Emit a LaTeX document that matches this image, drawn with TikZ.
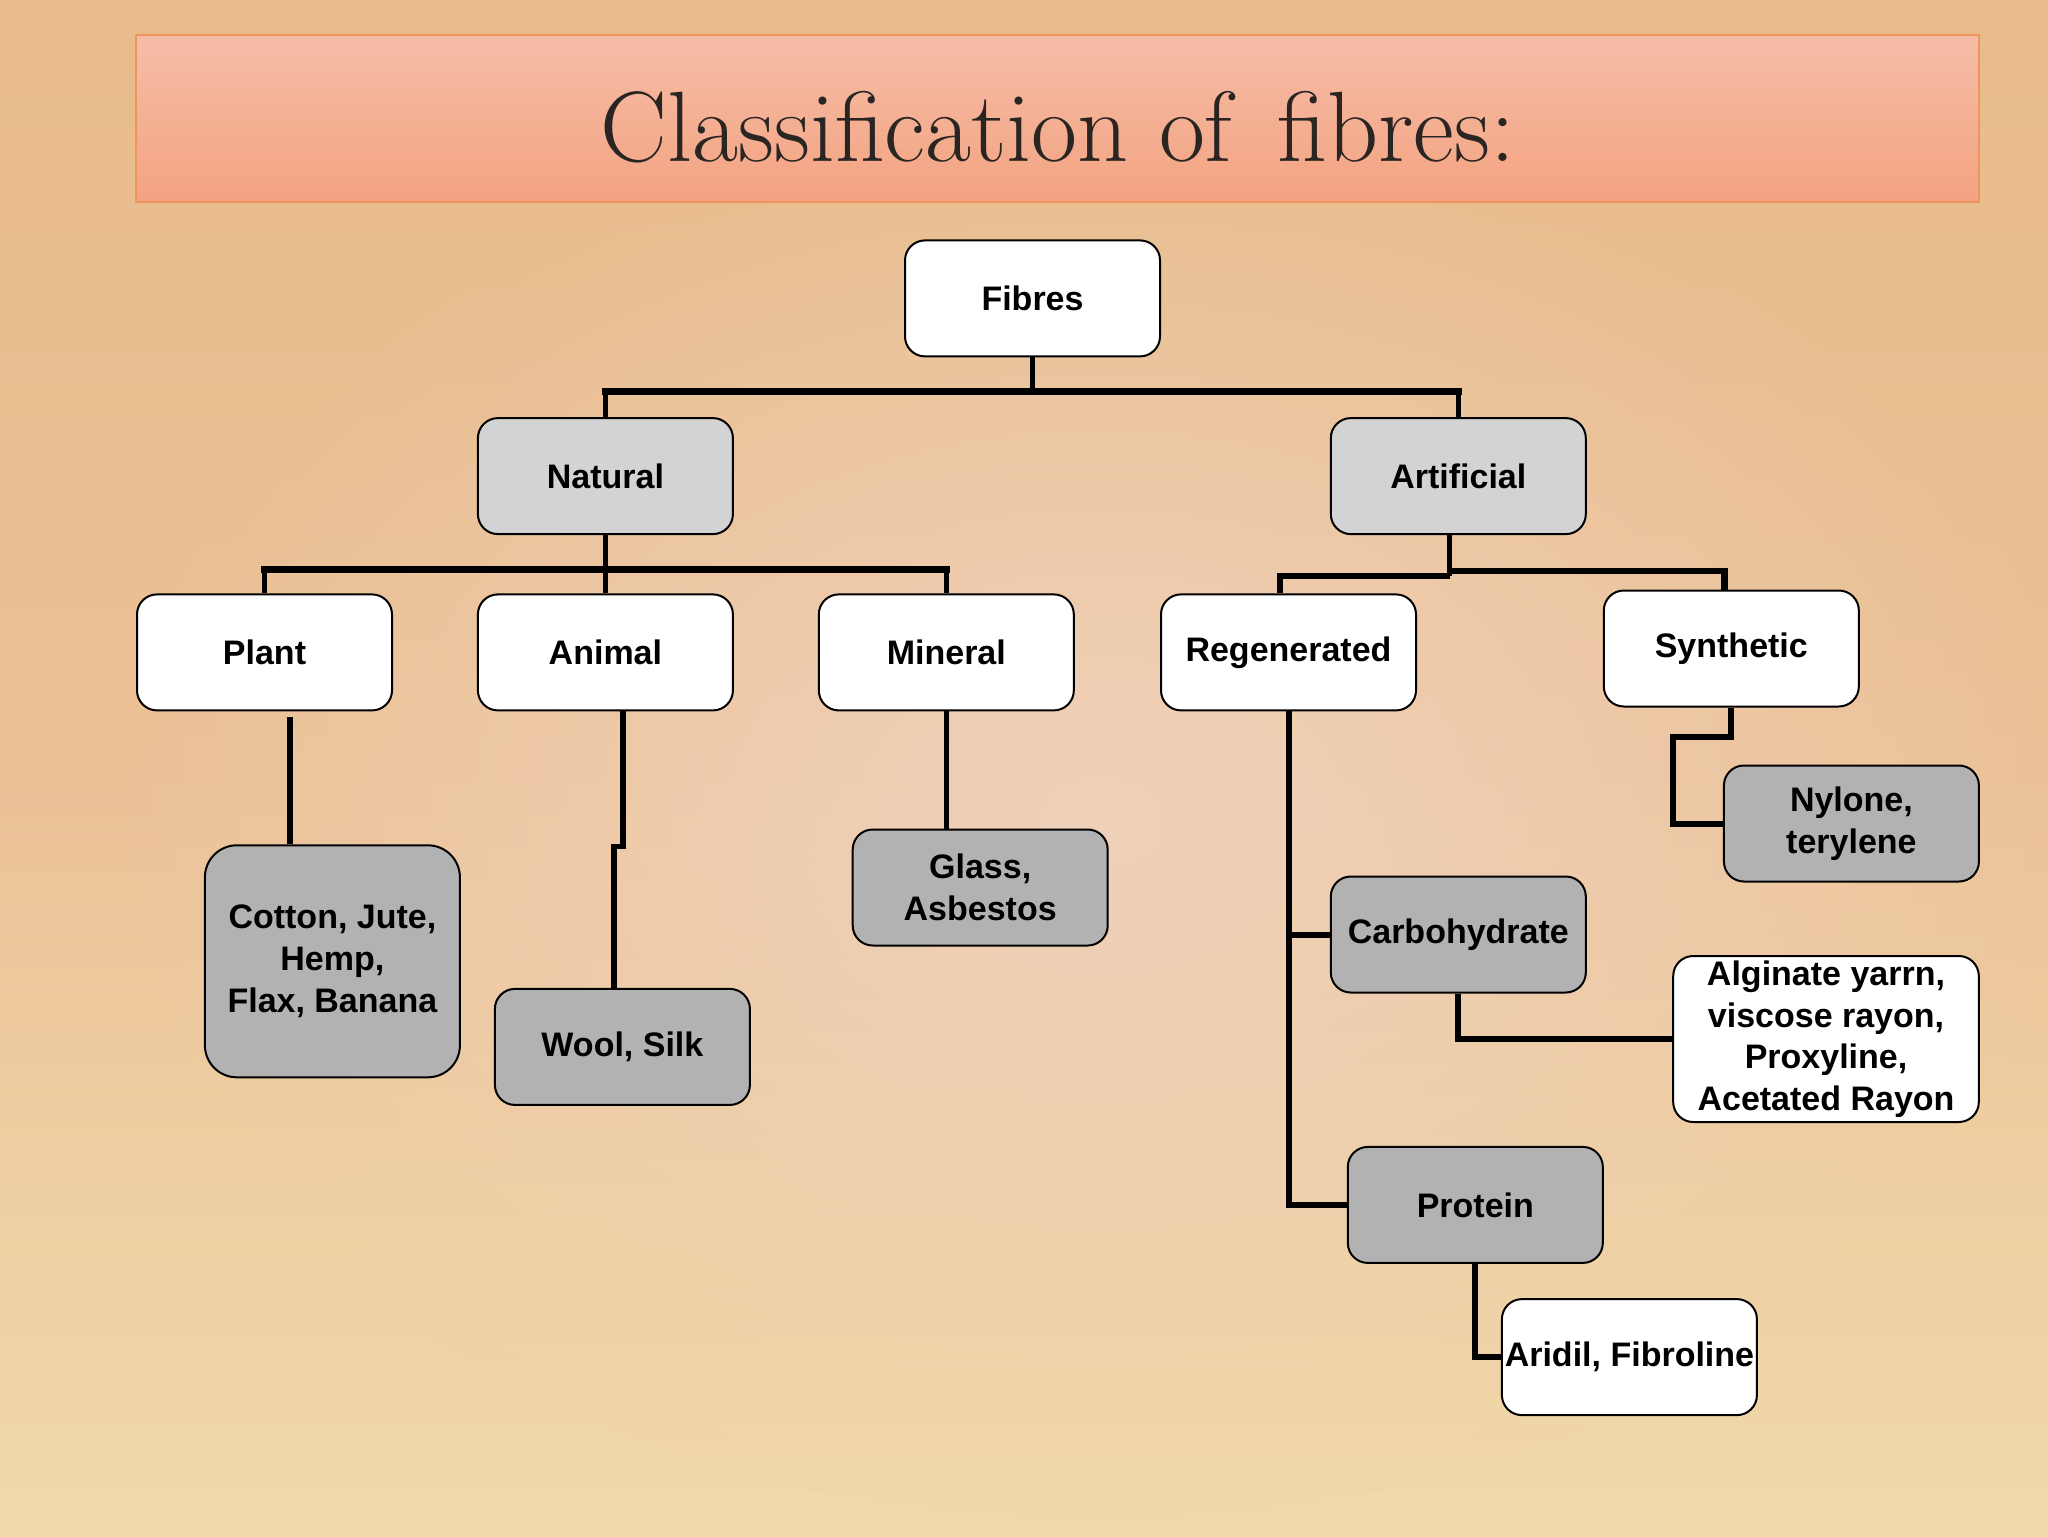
\documentclass[tikz,border=0pt]{standalone}
\usepackage{fontspec}
\newfontfamily\boxfont{Liberation Sans}
\usetikzlibrary{fadings}
\tikzfading[name=myfade, inner color=transparent!0, outer color=transparent!100]
\definecolor{bgtop}{HTML}{E8BC8A}
\definecolor{bgmid}{HTML}{EBC196}
\definecolor{bgbot}{HTML}{F1DAAA}
\definecolor{peach}{HTML}{F0D1BA}
\definecolor{bantop}{HTML}{F5BDA7}
\definecolor{banbot}{HTML}{F4A381}
\definecolor{banline}{HTML}{EE955F}
\definecolor{lg}{HTML}{D4D3D4}
\definecolor{dg}{HTML}{B2B2B2}
\definecolor{titlec}{HTML}{2A2522}
\begin{document}
\begin{tikzpicture}[x=0.5pt,y=-0.5pt,
  cell/.style={draw=black, line width=1pt, rounded corners=10pt,
    minimum width=127.5pt, minimum height=58pt, inner sep=0pt, align=center,
    font=\boxfont\bfseries\fontsize{17}{20.8}\selectfont},
  wcell/.style={cell, fill=white},
  lcell/.style={cell, fill=lg},
  dcell/.style={cell, fill=dg},
  link/.style={draw=black, line width=2.6pt},
  bar/.style={draw=black, line width=3.4pt, line cap=rect},
  banner/.style={draw=banline, line width=0.6pt, top color=bantop, bottom color=banbot,
    minimum width=921.5pt, minimum height=83.5pt, inner sep=0pt}]
% background
\useasboundingbox (0,0) rectangle (2048,1536);
\shade[top color=bgtop, bottom color=bgbot, middle color=bgmid] (0,0) rectangle (2048,1536);
\fill[peach, path fading=myfade] (1100,820) ellipse (1000 and 700);
% title banner
\node[banner] (banner) at (1057.5,118.5) {};
\node[anchor=base, text=titlec, font=\fontsize{50}{55}\selectfont, inner sep=0pt] (title) at (1058,161) {Classification of\hspace{0.45em}fibres:};
% nodes
\node[wcell] (fibres) at (1032.5,298.4) {Fibres};
\node[lcell] (natural) at (605.4,476.1) {Natural};
\node[lcell] (artificial) at (1458.3,476.1) {Artificial};
\node[wcell] (plant) at (264.5,652.4) {Plant};
\node[wcell] (animal) at (605.4,652.4) {Animal};
\node[wcell] (mineral) at (946.3,652.4) {Mineral};
\node[wcell] (regenerated) at (1288.5,652.4) {Regenerated};
\node[wcell] (synthetic) at (1731.3,648.5) {Synthetic};
\node[dcell, minimum height=116pt, rounded corners=16pt] (cotton) at (332.4,961.3) {Cotton, Jute,\\Hemp,\\Flax, Banana};
\node[dcell] (wool) at (622.4,1046.9) {Wool, Silk};
\node[dcell] (glass) at (980.2,887.5) {Glass,\\Asbestos};
\node[dcell] (nylone) at (1851.4,823.5) {Nylone,\\terylene};
\node[dcell] (carb) at (1458.3,934.5) {Carbohydrate};
\node[wcell, minimum width=152.8pt, minimum height=83pt] (alginate) at (1826,1039) {Alginate yarrn,\\viscose rayon,\\Proxyline,\\Acetated Rayon};
\node[dcell] (protein) at (1475.3,1204.9) {Protein};
\node[wcell] (aridil) at (1629.4,1357.1) {Aridil, Fibroline};
% connectors: fibres
\coordinate (j1) at (1032.5,391.8);
\draw[link] (fibres.south) -- (j1);
\draw[link] (natural.north |- j1) -- (natural.north);
\draw[link] (artificial.north |- j1) -- (artificial.north);
\draw[bar] (natural.north |- j1) -- (artificial.north |- j1);
% natural
\coordinate (j2) at (605.4,569.5);
\draw[link] (natural.south) -- (j2);
\draw[link] (plant.north |- j2) -- (plant.north);
\draw[link] (animal.north |- j2) -- (animal.north);
\draw[link] (mineral.north |- j2) -- (mineral.north);
\draw[bar] (plant.north |- j2) -- (mineral.north |- j2);
% artificial
\coordinate (ar) at (1449.8,570.8);
\coordinate (al) at (1449.8,576);
\draw[link] (artificial.south -| ar) -- (al);
\draw[link, line width=3.2pt] (ar) -| ([xshift=-3.5pt]synthetic.north);
\draw[link, line width=3.2pt] (al) -| ([xshift=-4.2pt]regenerated.north);
% plant
\coordinate (pl1) at ([xshift=12.75pt,yshift=-3pt]plant.south);
\draw[link] (pl1) -- (pl1 |- cotton.north);
% animal
\coordinate (an1) at ([xshift=8.8pt]animal.south);
\coordinate (an2) at (623,846.4);
\coordinate (an3) at (613.9,846.4);
\draw[link] (an1) -- (an2) -- (an3) -- (an3 |- wool.north);
% mineral
\draw[link] (mineral.south) -- (mineral.south |- glass.north);
% synthetic
\coordinate (sy2) at (1673,736.7);
\draw[link, line width=3pt] (synthetic.south) |- (sy2) |- (nylone.west);
% regenerated
\draw[link, line width=3pt] (regenerated.south) |- (protein.west);
\draw[link, line width=3pt] (regenerated.south |- carb.west) -- (carb.west);
% carbohydrate
\draw[link, line width=3pt] (carb.south) |- (alginate.west);
% protein
\draw[link, line width=3pt] (protein.south) |- (aridil.west);
\end{tikzpicture}
\end{document}
